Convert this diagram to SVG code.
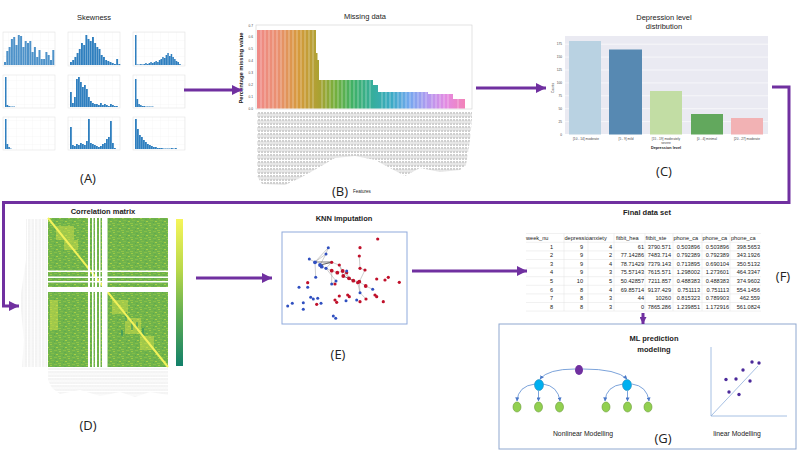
<svg xmlns="http://www.w3.org/2000/svg" width="800" height="454" viewBox="0 0 800 454">
<style>
.t{font-family:"Liberation Sans",Arial,sans-serif;fill:#222}
.ttl{font-size:7.5px;text-anchor:middle}
.b{font-weight:bold}
.lab{font-family:"Open Sans","Liberation Sans",sans-serif;font-size:13px;text-anchor:middle;fill:#222}
.tiny{font-family:"Liberation Sans",sans-serif;font-size:3.2px;fill:#444}
.hist{fill:#2f7fbf}
.frame{fill:url(#grid);stroke:#e4e4e4;stroke-width:0.6}
.conn{fill:none;stroke:#7030a0;stroke-width:3}
.tb{font-family:"Liberation Sans",sans-serif;font-size:5.6px;fill:#222}
.num{text-anchor:end}
.rl{stroke:#e2e2e2;stroke-width:0.5}
.red{fill:#c0102a}
.blu{fill:#2f4fc0}
.leaf{fill:#92d050;stroke:#6a9a3a;stroke-width:0.6}
.mid{fill:#00b0f0;stroke:#2a8ab8;stroke-width:0.6}
.tree{fill:none;stroke:#5b8bd0;stroke-width:0.8}
.pd{fill:#4b2a9a}
</style>
<defs>
<pattern id="grid" width="8" height="8" patternUnits="userSpaceOnUse">
<rect width="8" height="8" fill="#fff"/>
<path d="M0 0V8M0 0H8" stroke="#eeeeee" stroke-width="0.5"/>
</pattern>
<pattern id="vlbl" width="3" height="7" patternUnits="userSpaceOnUse">
<rect width="3" height="7" fill="#fff"/>
<path d="M1 0V2.5M1 3.5V6" stroke="#8a8a8a" stroke-width="0.9"/>
<path d="M2.4 1V5" stroke="#b0b0b0" stroke-width="0.4"/>
</pattern>
<pattern id="hlbl" width="7" height="1.6" patternUnits="userSpaceOnUse">
<path d="M0 0.8H2.5M3.5 0.8H6" stroke="#d6d6d6" stroke-width="0.5"/>
</pattern>
<pattern id="vlbl2" width="1.6" height="7" patternUnits="userSpaceOnUse">
<path d="M0.8 0V2.5M0.8 3.5V6" stroke="#d8d8d8" stroke-width="0.5"/>
</pattern>
<pattern id="heat" width="9" height="7" patternUnits="userSpaceOnUse">
<rect width="9" height="7" fill="#70b34b"/>
<rect x="0" y="0" width="3" height="1" fill="#86bf49"/>
<rect x="5" y="1" width="2" height="1" fill="#9ccb47"/>
<rect x="1" y="2" width="2" height="1" fill="#62ab4e"/>
<rect x="6" y="3" width="3" height="1" fill="#80bc4a"/>
<rect x="2" y="4" width="2" height="1" fill="#a8d046"/>
<rect x="0" y="5" width="1" height="1" fill="#5aa650"/>
<rect x="4" y="6" width="3" height="1" fill="#8ec449"/>
</pattern>
<linearGradient id="miss" x1="0" y1="0" x2="1" y2="0">
<stop offset="0" stop-color="#f08a88"/>
<stop offset="0.1" stop-color="#ea9070"/>
<stop offset="0.2" stop-color="#d69a3c"/>
<stop offset="0.3" stop-color="#a9a232"/>
<stop offset="0.38" stop-color="#72b03e"/>
<stop offset="0.46" stop-color="#3fb166"/>
<stop offset="0.56" stop-color="#36ae9e"/>
<stop offset="0.65" stop-color="#3caac6"/>
<stop offset="0.73" stop-color="#72a8ee"/>
<stop offset="0.82" stop-color="#b29af0"/>
<stop offset="0.91" stop-color="#e48ae2"/>
<stop offset="1" stop-color="#f283b8"/>
</linearGradient>
<linearGradient id="cbar" x1="0" y1="0" x2="0" y2="1">
<stop offset="0" stop-color="#f6f55a"/>
<stop offset="0.35" stop-color="#b8d84a"/>
<stop offset="0.65" stop-color="#62ae52"/>
<stop offset="1" stop-color="#12806a"/>
</linearGradient>
<marker id="ah" viewBox="0 0 10 10" refX="10" refY="5" markerWidth="10" markerHeight="10" markerUnits="userSpaceOnUse" orient="auto">
<path d="M0 0L10 5L0 10z" fill="#7030a0"/>
</marker>
<marker id="ahs" viewBox="0 0 10 10" refX="10" refY="5" markerWidth="7" markerHeight="7" markerUnits="userSpaceOnUse" orient="auto">
<path d="M0 0L10 5L0 10z" fill="#7030a0"/>
</marker>
<marker id="ta" viewBox="0 0 10 10" refX="9" refY="5" markerWidth="4" markerHeight="4" markerUnits="userSpaceOnUse" orient="auto">
<path d="M0 0L10 5L0 10z" fill="#4a78c8"/>
</marker>
</defs>
<rect width="800" height="454" fill="#fff"/>

<!-- (A) Skewness -->
<g id="skewness">
<text class="t ttl" x="94" y="20">Skewness</text>
<rect class="frame" x="3" y="32" width="52" height="34"/>
<rect class="frame" x="68" y="32" width="52" height="34"/>
<rect class="frame" x="133" y="32" width="52" height="34"/>
<rect class="frame" x="3" y="75" width="52" height="33"/>
<rect class="frame" x="68" y="75" width="52" height="33"/>
<rect class="frame" x="133" y="75" width="52" height="33"/>
<rect class="frame" x="3" y="117" width="52" height="33"/>
<rect class="frame" x="68" y="117" width="52" height="33"/>
<rect class="frame" x="133" y="117" width="52" height="33"/>
<path class="hist" fill-opacity="0.85" d="M4 65v-3h2v3m.3 0v-14h2v14m.3 0v-18h2v18m.3 0v-26h2v26m.3 0v-28h2v28m.3 0v-20h2v20m.3 0v-30h2v30m.3 0v-29h2v29m.3 0v-18h2v18m.3 0v-24h2v24m.3 0v-22h2v22m.3 0v-24h2v24m.3 0v-13h2v13m.3 0v-18h2v18m.3 0v-8h2v8m.3 0v-15h2v15m.3 0v-6h2v6m.3 0v-6h2v6m.3 0v-13h2v13m.3 0v-10h2v10m.3 0v-5h2v5m.3 0v-15h2v15z"/>
<path class="hist" d="M70 65v-3h1.9v3m.3 0v-5h1.9v5m.3 0v-8h1.9v8m.3 0v-12h1.9v12m.3 0v-16h1.9v16m.3 0v-22h1.9v22m.3 0v-20h1.9v20m.3 0v-30h1.9v30m.3 0v-26h1.9v26m.3 0v-24h1.9v24m.3 0v-28h1.9v28m.3 0v-22h1.9v22m.3 0v-18h1.9v18m.3 0v-16h1.9v16m.3 0v-10h1.9v10m.3 0v-8h1.9v8m.3 0v-5h1.9v5m.3 0v-4h1.9v4m.3 0v-3h1.9v3m.3 0v-2h1.9v2m.3 0v-1h1.9v1m.3 0v-6h1.9v6m.3 0v-1h1.9v1z"/>
<path class="hist" d="M135 65v-30h1.5v30m.2 0v-.5h1.5v.5m.2 0v-.5h1.5v.5m.2 0v-1h1.5v1m.2 0v-.5h1.5v.5m.2 0v-1h1.5v1m.2 0v-2h1.5v2m.2 0v-1h1.5v1m.2 0v-2h1.5v2m.2 0v-3h1.5v3m.2 0v-2h1.5v2m.2 0v-3h1.5v3m.2 0v-4h1.5v4m.2 0v-3h1.5v3m.2 0v-5h1.5v5m.2 0v-6h1.5v6m.2 0v-8h1.5v8m.2 0v-7h1.5v7m.2 0v-10h1.5v10m.2 0v-12h1.5v12m.2 0v-9h1.5v9m.2 0v-11h1.5v11m.2 0v-8h1.5v8m.2 0v-6h1.5v6m.2 0v-4h1.5v4m.2 0v-3h1.5v3m.2 0v-1h1.5v1z"/>
<path class="hist" d="M5 107v-30h1.5v30m.2 0v-2h1.5v2m.2 0v-1h1.5v1m.2 0v-.6h1.5v.6m.2 0v-.5h1.5v.5m.2 0v-.4h1.5v.4z"/>
<path class="hist" d="M70 107v-15h1.8v15m.2 0v-4h1.8v4m.2 0v-10h1.8v10m.2 0v-28h1.8v28m.2 0v-30h1.8v30m.2 0v-25h1.8v25m.2 0v-20h1.8v20m.2 0v-22h1.8v22m.2 0v-18h1.8v18m.2 0v-10h1.8v10m.2 0v-6h1.8v6m.2 0v-4h1.8v4m.2 0v-3h1.8v3m.2 0v-3h1.8v3m.2 0v-2h1.8v2m.2 0v-4h1.8v4m.2 0v-2h1.8v2m.2 0v-3h1.8v3m.2 0v-2h1.8v2m.2 0v-1h1.8v1m.2 0v-3h1.8v3m.2 0v-2h1.8v2m.2 0v-1h1.8v1m.2 0v-1h1.8v1z"/>
<path class="hist" d="M135 107v-28h1.5v28m.2 0v-8h1.5v8m.2 0v-3h1.5v3m.2 0v-2h1.5v2m.2 0v-1h1.5v1m.2 0v-1h1.5v1m.2 0v-.6h1.5v.6m.2 0v-.5h1.5v.5m.2 0v-.5h1.5v.5m.2 0v-.4h1.5v.4m.2 0v-.4h1.5v.4z"/>
<path class="hist" d="M5 149v-30h1.5v30m.2 0v-5h1.5v5m.2 0v-2h1.5v2m.2 0v-.6h1.5v.6z"/>
<path class="hist" d="M70 149v-22h1.8v22m.2 0v-4h1.8v4m.2 0v-3h1.8v3m.2 0v-5h1.8v5m.2 0v-4h1.8v4m.2 0v-6h1.8v6m.2 0v-5h1.8v5m.2 0v-4h1.8v4m.2 0v-8h1.8v8m.2 0v-30h1.8v30m.2 0v-6h1.8v6m.2 0v-5h1.8v5m.2 0v-4h1.8v4m.2 0v-3h1.8v3m.2 0v-2h1.8v2m.2 0v-3h1.8v3m.2 0v-5h1.8v5m.2 0v-6h1.8v6m.2 0v-10h1.8v10m.2 0v-12h1.8v12m.2 0v-28h1.8v28m.2 0v-6h1.8v6m.2 0v-1h1.8v1z"/>
<path class="hist" d="M135 149v-30h1.8v30m.2 0v-20h1.8v20m.2 0v-14h1.8v14m.2 0v-12h1.8v12m.2 0v-9h1.8v9m.2 0v-7h1.8v7m.2 0v-5h1.8v5m.2 0v-4h1.8v4m.2 0v-3h1.8v3m.2 0v-2h1.8v2m.2 0v-2h1.8v2m.2 0v-1h1.8v1m.2 0v-1h1.8v1m.2 0v-1h1.8v1m.2 0v-.5h1.8v.5m.2 0v-.5h1.8v.5m.2 0v-.5h1.8v.5m.2 0v-.4h1.8v.4m.2 0v-1h1.8v1m.2 0v-.4h1.8v.4m.2 0v-1h1.8v1z"/>
<text class="lab" x="88" y="183">(A)</text>
</g>

<!-- (B) Missing data -->
<g id="missing-data">
<text class="t ttl" x="365" y="19">Missing data</text>
<rect x="256" y="25" width="216" height="84" fill="#fff" stroke="#cfcfcf" stroke-width="0.6"/>
<path fill="url(#miss)" d="M257 30H316V53H317.5V60H319V80H373V85H378V92H428V94H453V99H465V108.5H257Z"/>
<path stroke="#fff" stroke-width="0.5" opacity="0.8" d="M261 30V109M265 30V109M269 30V109M273 30V109M277 30V109M281 30V109M285 30V109M289 30V109M293 30V109M297 30V109M301 30V109M305 30V109M309 30V109M313 30V109M322 80V109M326 80V109M330 80V109M334 80V109M338 80V109M342 80V109M346 80V109M350 80V109M354 80V109M358 80V109M362 80V109M366 80V109M370 80V109M382 92V109M386 92V109M390 92V109M394 92V109M398 92V109M402 92V109M406 92V109M410 92V109M414 92V109M418 92V109M422 92V109M426 92V109M432 94V109M436 94V109M440 94V109M444 94V109M448 94V109M458 99V109"/>
<text class="tiny" x="253" y="109.5" text-anchor="end">0.0</text>
<text class="tiny" x="253" y="97.5" text-anchor="end">0.1</text>
<text class="tiny" x="253" y="85.5" text-anchor="end">0.2</text>
<text class="tiny" x="253" y="73.5" text-anchor="end">0.3</text>
<text class="tiny" x="253" y="61.5" text-anchor="end">0.4</text>
<text class="tiny" x="253" y="49.5" text-anchor="end">0.5</text>
<text class="tiny" x="253" y="37.5" text-anchor="end">0.6</text>
<text class="tiny" x="253" y="26.5" text-anchor="end">0.7</text>
<text class="t b" font-size="5.8" transform="translate(243 68) rotate(-90)" text-anchor="middle" fill="#333">Percentage missing value</text>
<path fill="url(#vlbl)" opacity="0.9" d="M257 111H472V118L470 140L466 165L460 170L440 172L420 168L405 176L390 168L375 160L355 156L335 158L318 168L300 178L285 185L262 184L257 176Z"/>
<text class="lab" x="340" y="196">(B)</text>
<text class="t" font-size="4.5" x="362" y="193" text-anchor="middle" fill="#555">Features</text>
</g>

<!-- (C) Depression level distribution -->
<g id="depression-level">
<text class="t ttl" x="664" y="20">Depression level</text>
<text class="t ttl" x="664" y="29">distribution</text>
<rect x="565" y="36" width="203" height="98" fill="#eaeaf2"/>
<path stroke="#fff" stroke-width="0.6" d="M565 121.6H768M565 108.7H768M565 95.8H768M565 82.9H768M565 70H768M565 57.1H768M565 44.2H768"/>
<rect x="569" y="41" width="32" height="93.5" fill="#b9d2e2"/>
<rect x="609" y="49.5" width="33" height="85" fill="#5789b2"/>
<rect x="650" y="91" width="32" height="43.5" fill="#c2dda4"/>
<rect x="691" y="114" width="32" height="20.5" fill="#62a85d"/>
<rect x="731" y="118" width="32" height="16.5" fill="#f2b2b4"/>
<g class="tiny" text-anchor="end">
<text x="562" y="135.5">0</text><text x="562" y="122.6">25</text><text x="562" y="109.7">50</text><text x="562" y="96.8">75</text><text x="562" y="83.9">100</text><text x="562" y="71">125</text><text x="562" y="58.1">150</text><text x="562" y="45.2">175</text>
</g>
<text class="tiny" font-size="4" transform="translate(554 88) rotate(-90)" text-anchor="middle">Counts</text>
<g class="tiny" text-anchor="middle">
<text x="586" y="140">[10 - 14] moderate</text>
<text x="626" y="140">[5 - 9] mild</text>
<text x="666" y="140">[15 - 19] moderately</text>
<text x="666" y="143.5">severe</text>
<text x="707" y="140">[0 - 4] minimal</text>
<text x="747" y="140">[20 - 27] moderate</text>
</g>
<text class="t b" font-size="3.8" x="666" y="149" text-anchor="middle">Depression level</text>
<text class="lab" x="664" y="176">(C)</text>
</g>

<!-- (D) Correlation matrix -->
<g id="correlation-matrix">
<text class="t ttl b" x="103" y="214">Correlation matrix</text>
<path fill="url(#hlbl)" d="M26 219H47V367H22L24 340L20 300L26 260Z"/>
<path fill="url(#vlbl2)" d="M48 368H168V395L150 392L135 397L120 392L100 396L80 390L60 394L52 388L48 380Z"/>
<rect x="48" y="218" width="120" height="149" fill="url(#heat)"/>
<path fill="#dde44a" opacity="0.45" d="M56 226h18v14h-18zM64 240h14v10h-14zM112 300h16v14h-16zM125 318h16v16h-16zM140 336h14v14h-14zM50 300h8v30h-8z"/>
<path fill="#1f8a68" opacity="0.5" d="M125 312h2v9h-2zM131 320h2v10h-2zM136 322h2v8h-2zM142 328h2v8h-2zM121 330h2v6h-2z"/>
<path d="M48 218L168 367" stroke="#f2f25a" stroke-width="2"/>
<g fill="#fff">
<rect x="88" y="218" width="2" height="149"/>
<rect x="92" y="218" width="1.5" height="149"/>
<rect x="95" y="218" width="2" height="149"/>
<rect x="99" y="218" width="1.5" height="149"/>
<rect x="102" y="218" width="5.5" height="149"/>
<rect x="48" y="270.5" width="120" height="1.5"/>
<rect x="48" y="276.5" width="120" height="1.5"/>
<rect x="48" y="281" width="120" height="1.5"/>
<rect x="48" y="287" width="120" height="5"/>
</g>
<rect x="176" y="219" width="7" height="147" fill="url(#cbar)"/>
<text class="lab" x="88" y="430">(D)</text>
</g>

<!-- (E) KNN imputation -->
<g id="knn-imputation">
<text class="t ttl b" x="344" y="221">KNN imputation</text>
<rect x="282" y="232" width="125" height="92" fill="#fff" stroke="#8faadc" stroke-width="1"/>
<path fill="none" stroke="#9a9a9a" stroke-width="0.5" d="M315 262L328 248L326 254L320 265L331.7 262.3L326 268.3L336 281M309 259L315 262L326 254M315 262L315.7 277.3M321.7 266.7L331.7 270.7L337.3 272.7L342.7 271L349 278.3L353.3 280.7L359.3 281.7L365.7 286L372.7 289.3M339.3 265L343.3 276L346.7 271M331.7 262.3L339.3 265L342.7 271M359.3 256L360 268.3L365 270L359.3 281.7L360 292.7L366 299M353.3 280.7L357.7 282.7L360 292.7M336 281L331.7 284L331.7 270.7M346.7 272.7L349 278.3"/>
<path fill="none" stroke="#222" stroke-width="0.6" d="M315 262H331.7M320 265L331.7 262.3M343.3 276L353.3 280.7"/>
<g class="red">
<circle cx="377.7" cy="239" r="1.6"/><circle cx="360" cy="247.7" r="1.6"/><circle cx="359.3" cy="256" r="1.6"/><circle cx="360" cy="268.3" r="1.6"/><circle cx="365" cy="270" r="1.6"/><circle cx="331.7" cy="262.3" r="1.6"/><circle cx="339.3" cy="265" r="1.6"/><circle cx="331.7" cy="270.7" r="1.9"/><circle cx="337.3" cy="272.7" r="1.9"/><circle cx="342.7" cy="271" r="1.9"/><circle cx="346.7" cy="272.7" r="1.6"/><circle cx="343.3" cy="276" r="1.9"/><circle cx="349" cy="278.3" r="1.9"/><circle cx="353.3" cy="280.7" r="1.9"/><circle cx="359.3" cy="281.7" r="1.9"/><circle cx="365.7" cy="286" r="1.9"/><circle cx="376.7" cy="279" r="1.6"/><circle cx="385" cy="280" r="1.6"/><circle cx="388.3" cy="277.3" r="1.6"/><circle cx="399.3" cy="282.3" r="1.6"/><circle cx="375" cy="295" r="1.6"/><circle cx="376.7" cy="296.7" r="1.6"/><circle cx="366" cy="299" r="1.6"/><circle cx="360" cy="301.7" r="1.6"/><circle cx="383.3" cy="301.7" r="1.6"/><circle cx="347.7" cy="295" r="1.6"/><circle cx="349.3" cy="296.7" r="1.6"/><circle cx="339.3" cy="296" r="1.6"/><circle cx="335" cy="300" r="1.6"/><circle cx="336.7" cy="302.3" r="1.6"/><circle cx="316.7" cy="304.3" r="1.6"/><circle cx="307.7" cy="282.7" r="1.6"/><circle cx="335" cy="284" r="1.6"/><circle cx="357.7" cy="282.7" r="1.6"/>
</g>
<g class="blu">
<circle cx="328.3" cy="247.7" r="1.5"/><circle cx="326" cy="254" r="1.5"/><circle cx="309.3" cy="259" r="1.5"/><circle cx="315" cy="262.3" r="1.9"/><circle cx="320" cy="265" r="1.9"/><circle cx="321.7" cy="266.7" r="1.9"/><circle cx="326" cy="268.3" r="1.6"/><circle cx="346.7" cy="271" r="1.5"/><circle cx="336" cy="281" r="1.5"/><circle cx="331.7" cy="284" r="1.5"/><circle cx="315.7" cy="277.3" r="1.5"/><circle cx="307.7" cy="287.3" r="1.5"/><circle cx="299" cy="287.3" r="1.5"/><circle cx="310.7" cy="297.3" r="1.5"/><circle cx="313.3" cy="299" r="1.5"/><circle cx="317.7" cy="298.3" r="1.5"/><circle cx="321" cy="303.3" r="1.5"/><circle cx="303.3" cy="302.7" r="1.5"/><circle cx="292.3" cy="303.3" r="1.5"/><circle cx="287.7" cy="306" r="1.5"/><circle cx="303.3" cy="309.3" r="1.5"/><circle cx="333.3" cy="316" r="1.5"/><circle cx="335.7" cy="318.3" r="1.5"/><circle cx="346" cy="300.7" r="1.5"/><circle cx="356.7" cy="300" r="1.5"/><circle cx="360" cy="292.7" r="1.5"/><circle cx="372.7" cy="289.3" r="1.5"/>
</g>
<text class="lab" x="338" y="359">(E)</text>
</g>

<!-- (F) Final data set -->
<g id="final-data-set">
<text class="t ttl b" x="647" y="215">Final data set</text>
<g class="rl">
<path d="M526 233.5H761M526 242.3H761M526 250.9H761M526 259.5H761M526 268.1H761M526 276.7H761M526 285.3H761M526 293.9H761M526 302.5H761M526 311.1H761"/>
<path d="M564 233.5V311M588 233.5V311M614 233.5V311M645 233.5V311M673 233.5V311M702 233.5V311M730 233.5V311"/>
</g>
<g class="tb">
<text x="526" y="240">week_nu</text><text x="564.5" y="240">depressio</text><text x="589" y="240">anxiety</text><text x="616" y="240">fitbit_hea</text><text x="645.5" y="240">fitbit_ste</text><text x="673.5" y="240">phone_ca</text><text x="702.5" y="240">phone_ca</text><text x="731" y="240">phone_ca</text>
</g>
<g class="tb num">
<text x="553" y="248.6">1</text><text x="583" y="248.6">9</text><text x="612" y="248.6">4</text><text x="644" y="248.6">61</text><text x="671" y="248.6">3790.571</text><text x="700" y="248.6">0.503896</text><text x="729" y="248.6">0.503896</text><text x="760" y="248.6">398.5653</text>
<text x="553" y="257.2">2</text><text x="583" y="257.2">9</text><text x="612" y="257.2">2</text><text x="644" y="257.2">77.14286</text><text x="671" y="257.2">7483.714</text><text x="700" y="257.2">0.792389</text><text x="729" y="257.2">0.792389</text><text x="760" y="257.2">343.1926</text>
<text x="553" y="265.8">3</text><text x="583" y="265.8">9</text><text x="612" y="265.8">4</text><text x="644" y="265.8">78.71429</text><text x="671" y="265.8">7379.143</text><text x="700" y="265.8">0.713895</text><text x="729" y="265.8">0.690104</text><text x="760" y="265.8">350.5132</text>
<text x="553" y="274.4">4</text><text x="583" y="274.4">9</text><text x="612" y="274.4">3</text><text x="644" y="274.4">75.57143</text><text x="671" y="274.4">7615.571</text><text x="700" y="274.4">1.298002</text><text x="729" y="274.4">1.273601</text><text x="760" y="274.4">464.3347</text>
<text x="553" y="283">5</text><text x="583" y="283">10</text><text x="612" y="283">5</text><text x="644" y="283">50.42857</text><text x="671" y="283">7211.857</text><text x="700" y="283">0.488383</text><text x="729" y="283">0.488383</text><text x="760" y="283">374.9602</text>
<text x="553" y="291.6">6</text><text x="583" y="291.6">8</text><text x="612" y="291.6">4</text><text x="644" y="291.6">69.85714</text><text x="671" y="291.6">9137.429</text><text x="700" y="291.6">0.751113</text><text x="729" y="291.6">0.751113</text><text x="760" y="291.6">554.1456</text>
<text x="553" y="300.2">7</text><text x="583" y="300.2">8</text><text x="612" y="300.2">3</text><text x="644" y="300.2">44</text><text x="671" y="300.2">10260</text><text x="700" y="300.2">0.815323</text><text x="729" y="300.2">0.789903</text><text x="760" y="300.2">462.559</text>
<text x="553" y="308.8">8</text><text x="583" y="308.8">8</text><text x="612" y="308.8">3</text><text x="644" y="308.8">0</text><text x="671" y="308.8">7865.286</text><text x="700" y="308.8">1.239851</text><text x="729" y="308.8">1.172916</text><text x="760" y="308.8">561.0824</text>
</g>
<text class="lab" x="783" y="281">(F)</text>
</g>

<!-- (G) ML prediction modeling -->
<g id="ml-prediction">
<rect x="499" y="324" width="297" height="125" fill="#fff" stroke="#8fa8d0" stroke-width="1"/>
<text class="t ttl b" x="654" y="341">ML prediction</text>
<text class="t ttl b" x="654" y="352">modeling</text>
<path class="tree" marker-end="url(#ta)" d="M575 369Q548 369 540 379"/>
<path class="tree" marker-end="url(#ta)" d="M583 369Q617 369 627 379"/>
<path class="tree" marker-end="url(#ta)" d="M535 384Q518 386 517 401"/>
<path class="tree" marker-end="url(#ta)" d="M538.5 391V401"/>
<path class="tree" marker-end="url(#ta)" d="M543 384Q558 386 560 401"/>
<path class="tree" marker-end="url(#ta)" d="M623 384Q606 386 605 401"/>
<path class="tree" marker-end="url(#ta)" d="M627.5 391V401"/>
<path class="tree" marker-end="url(#ta)" d="M632 384Q647 386 649 401"/>
<ellipse cx="579" cy="370" rx="4" ry="5" fill="#7030a0"/>
<ellipse class="mid" cx="539" cy="385" rx="4.5" ry="5.5"/>
<ellipse class="mid" cx="627" cy="385" rx="4.5" ry="5.5"/>
<ellipse class="leaf" cx="517" cy="407" rx="4" ry="5"/>
<ellipse class="leaf" cx="538.5" cy="407" rx="4" ry="5"/>
<ellipse class="leaf" cx="559.5" cy="407" rx="4" ry="5"/>
<ellipse class="leaf" cx="606" cy="407" rx="4" ry="5"/>
<ellipse class="leaf" cx="627.5" cy="407" rx="4" ry="5"/>
<ellipse class="leaf" cx="648" cy="407" rx="4" ry="5"/>
<path d="M711 347V416H787M711 416L758 366" fill="none" stroke="#8fb0dc" stroke-width="0.8"/>
<g class="pd">
<circle cx="752" cy="362" r="1.7"/><circle cx="759" cy="363" r="1.7"/><circle cx="743" cy="370" r="1.7"/><circle cx="726" cy="379.5" r="1.7"/><circle cx="736" cy="379" r="1.7"/><circle cx="750" cy="381" r="1.7"/><circle cx="729" cy="392" r="1.7"/><circle cx="739" cy="394.5" r="1.7"/>
</g>
<text class="t" font-size="6.8" x="583" y="436" text-anchor="middle" fill="#333">Nonlinear Modelling</text>
<text class="t" font-size="6.8" x="737" y="436" text-anchor="middle" fill="#333">linear Modelling</text>
<text class="lab" x="663" y="443">(G)</text>
</g>

<!-- connectors -->
<g id="connectors">
<path class="conn" marker-end="url(#ah)" d="M184 90H242"/>
<path class="conn" marker-end="url(#ah)" d="M476 88H546"/>
<path class="conn" marker-end="url(#ah)" d="M772 87H789V202.5H3.5V306H19"/>
<path class="conn" marker-end="url(#ah)" d="M196 278H272"/>
<path class="conn" marker-end="url(#ah)" d="M412 271H527"/>
<path class="conn" stroke-width="2" marker-end="url(#ahs)" d="M643 313V324"/>
</g>
</svg>
